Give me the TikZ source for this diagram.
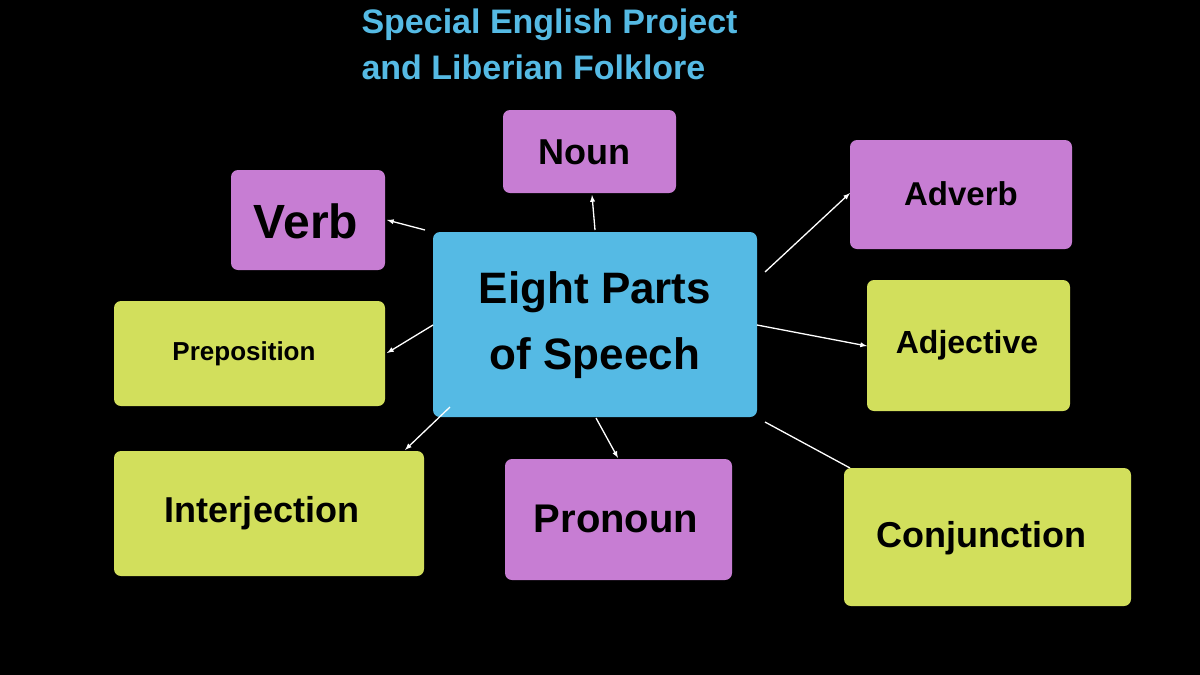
\documentclass[tikz,border=0pt]{standalone}
\usepackage{fontspec}
\setmainfont{Liberation Sans}
\definecolor{pur}{HTML}{C77DD3}
\definecolor{grn}{HTML}{D2DF5C}
\definecolor{blu}{HTML}{55BAE4}
\begin{document}
\begin{tikzpicture}[x=1pt,y=-1pt,
 box/.style={rounded corners=7pt,inner sep=0},
 lbl/.style={font=\bfseries,text=black},
 arr/.style={white,line width=1.3pt,-latex}]
\fill[black] (0,0) rectangle (1200,675);
\useasboundingbox (0,0) rectangle (1200,675);
\node[anchor=north west,text=blu,font=\bfseries\fontsize{34}{40}\selectfont,align=left] (title) at (358,5) {Special English Project\\[6pt]and Liberian Folklore};
\newcommand\bx[7]{\fill[#6,rounded corners=7pt] (#2,#3) rectangle (#4,#5);
 \node[lbl,font=\bfseries\fontsize{#7}{#7}\selectfont,inner sep=0] (#1) at ({(#2+#4)/2},{(#3+#5)/2}) {};}
\fill[pur,rounded corners=7pt] (503,110) rectangle (676,193);
\node[lbl,font=\bfseries\fontsize{36}{40}\selectfont] (noun) at (584,152) {Noun};
\fill[pur,rounded corners=7pt] (231,170) rectangle (385,270);
\node[lbl,font=\bfseries\fontsize{48}{52}\selectfont] (verb) at (306,221) {Verb};
\fill[pur,rounded corners=7pt] (850,140) rectangle (1072,249);
\node[lbl,font=\bfseries\fontsize{33}{36}\selectfont] (adverb) at (961,194) {Adverb};
\fill[blu,rounded corners=7pt] (433,232) rectangle (757,417);
\node[lbl,font=\bfseries\fontsize{44}{66}\selectfont,align=center] (eight) at (595,325) {Eight Parts\\of Speech};
\fill[grn,rounded corners=7pt] (114,301) rectangle (385,406);
\node[lbl,font=\bfseries\fontsize{26}{30}\selectfont] (prep) at (244,354) {Preposition};
\fill[grn,rounded corners=7pt] (867,280) rectangle (1070,411);
\node[lbl,font=\bfseries\fontsize{32}{36}\selectfont] (adj) at (967,345) {Adjective};
\fill[grn,rounded corners=7pt] (114,451) rectangle (424,576);
\node[lbl,font=\bfseries\fontsize{36}{40}\selectfont] (inter) at (262,513) {Interjection};
\fill[pur,rounded corners=7pt] (505,459) rectangle (732,580);
\node[lbl,font=\bfseries\fontsize{40}{44}\selectfont] (pron) at (616,519) {Pronoun};
\fill[grn,rounded corners=7pt] (844,468) rectangle (1131,606);
\node[lbl,font=\bfseries\fontsize{36}{40}\selectfont] (conj) at (981,538) {Conjunction};
\coordinate (a1) at (595,230); \coordinate (b1) at (592,195);
\coordinate (a2) at (425,230); \coordinate (b2) at (387,220);
\coordinate (a3) at (765,272); \coordinate (b3) at (850,193);
\coordinate (a4) at (433,325); \coordinate (b4) at (387,353);
\coordinate (a5) at (757,325); \coordinate (b5) at (867,346);
\coordinate (a6) at (450,407); \coordinate (b6) at (405,450);
\coordinate (a7) at (596,418); \coordinate (b7) at (618,458);
\coordinate (a8) at (765,422); \coordinate (b8) at (850,468);
\foreach \i in {1,...,7} \draw[arr] (a\i) -- (b\i);
\draw[white,line width=1.3pt] (a8) -- (b8);
\end{tikzpicture}
\end{document}
